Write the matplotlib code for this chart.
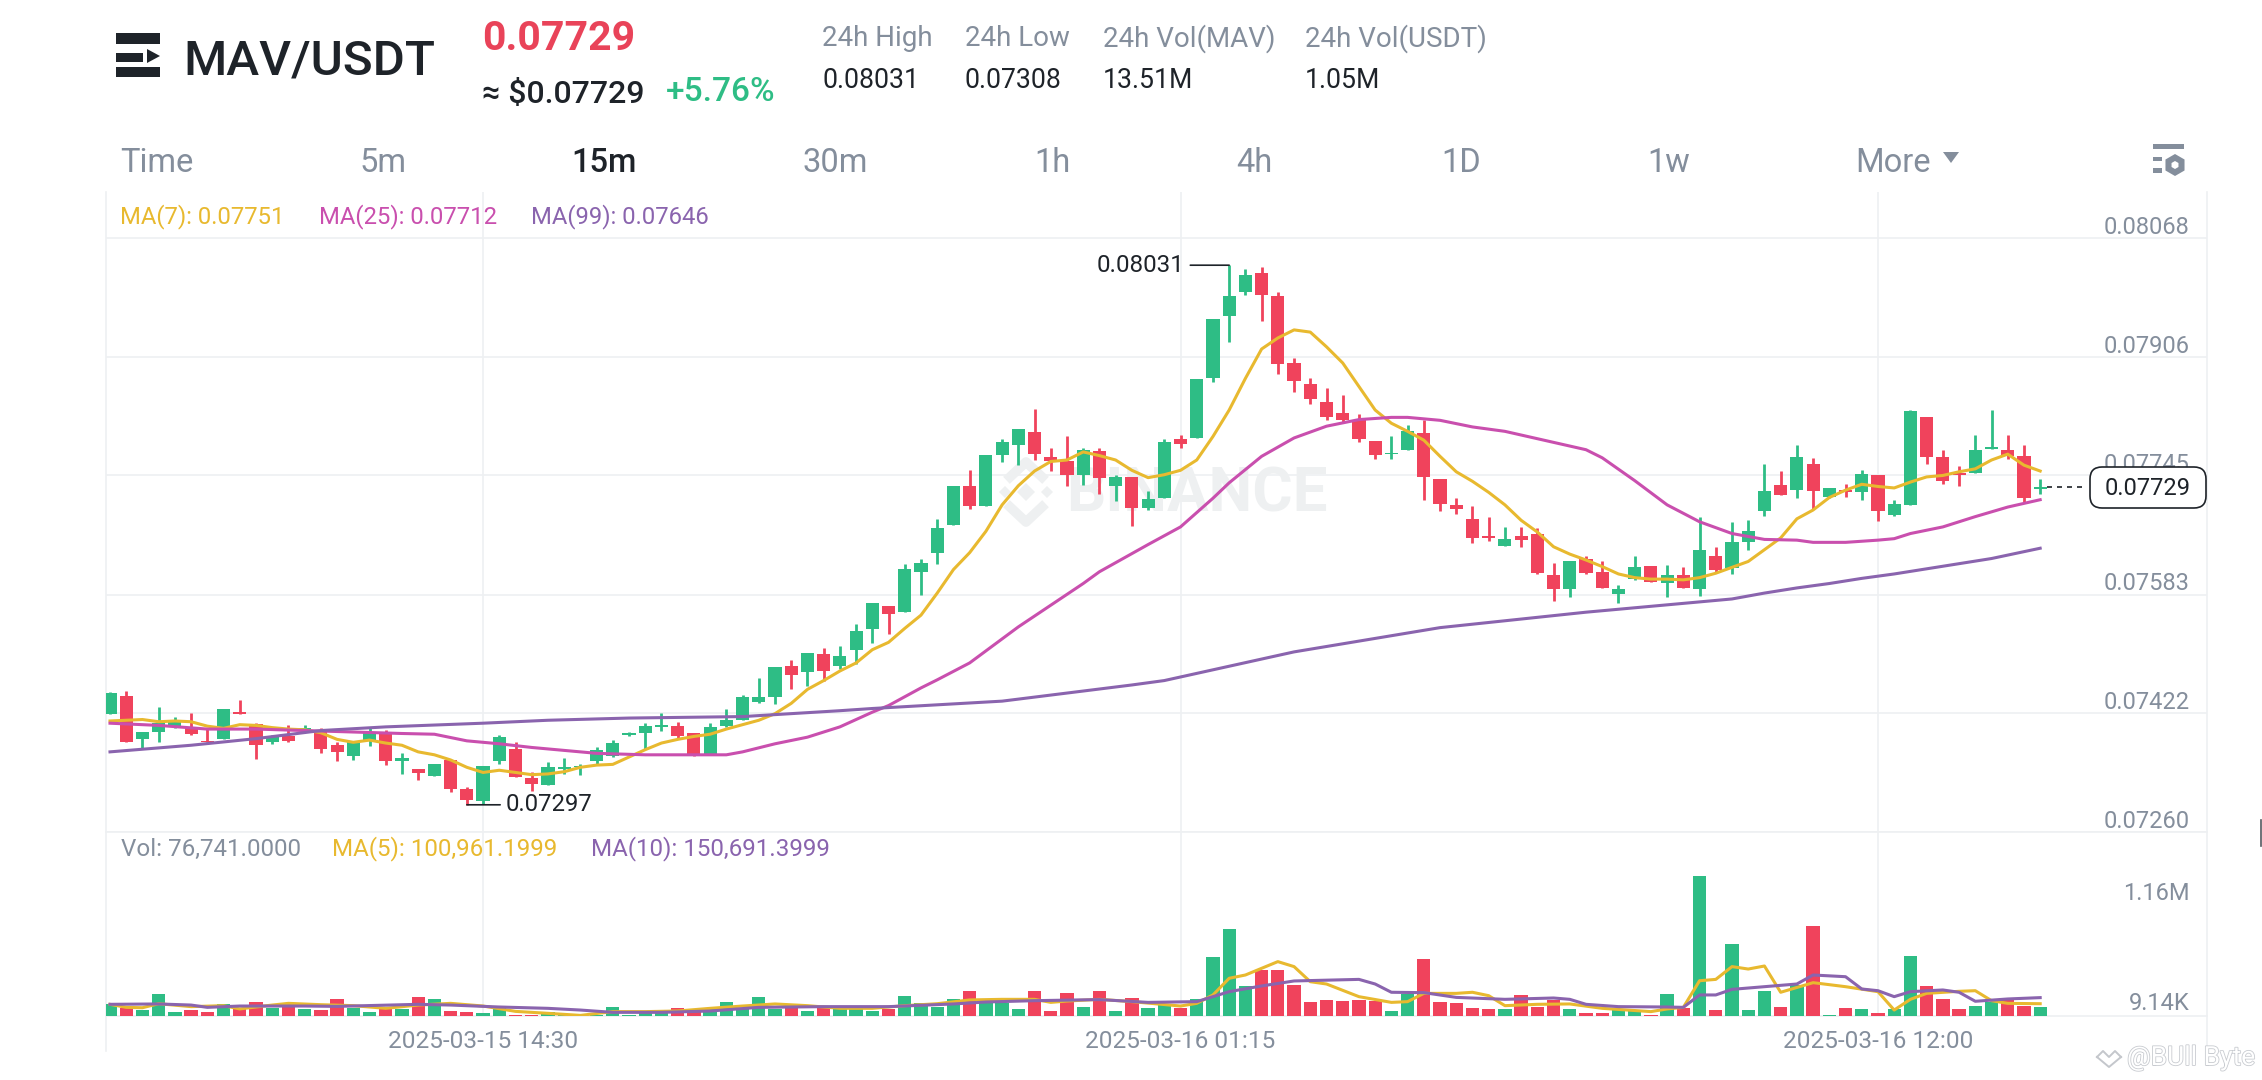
import matplotlib
matplotlib.use("Agg")
import matplotlib.pyplot as plt
import numpy as np
from matplotlib.lines import Line2D
from matplotlib.patches import FancyBboxPatch, Polygon, Rectangle, RegularPolygon
from matplotlib.transforms import IdentityTransform
import matplotlib.patheffects as pe

W, H = 2262, 1080

# prices are in 1e-5 USDT
opens = [7421, 7445, 7386, 7396, 7403, 7401, 7384, 7387, 7423, 7407,
         7382, 7390, 7399, 7396, 7378, 7364, 7385, 7396, 7357, 7346,
         7336, 7358, 7318, 7302, 7356, 7373, 7334, 7324, 7346, 7348,
         7357, 7363, 7392, 7395, 7403, 7404, 7395, 7366, 7404, 7413,
         7437, 7444, 7486, 7477, 7502, 7486, 7508, 7536, 7568, 7559,
         7614, 7639, 7678, 7730, 7704, 7773, 7786, 7804, 7770, 7764,
         7745, 7778, 7731, 7743, 7701, 7714, 7795, 7796, 7877, 7962,
         7994, 8021, 7989, 7898, 7869, 7845, 7830, 7820, 7792, 7774,
         7780, 7803, 7740, 7705, 7686, 7663, 7649, 7663, 7665, 7610,
         7590, 7632, 7613, 7584, 7604, 7622, 7599, 7609, 7591, 7635,
         7619, 7654, 7696, 7732, 7725, 7761, 7716, 7725, 7722, 7745,
         7691, 7705, 7825, 7770, 7749, 7749, 7781, 7779, 7772, 7727]
closes = [7449, 7382, 7396, 7408, 7410, 7393, 7382, 7427, 7420, 7378,
          7391, 7384, 7401, 7373, 7369, 7382, 7396, 7357, 7360, 7340,
          7353, 7319, 7304, 7350, 7389, 7335, 7325, 7349, 7348, 7350,
          7371, 7381, 7394, 7404, 7405, 7390, 7364, 7403, 7412, 7443,
          7443, 7484, 7474, 7504, 7479, 7500, 7534, 7572, 7556, 7618,
          7626, 7673, 7731, 7703, 7773, 7790, 7808, 7774, 7764, 7746,
          7780, 7742, 7743, 7701, 7713, 7791, 7788, 7876, 7958, 7989,
          8018, 7990, 7896, 7873, 7849, 7825, 7820, 7794, 7773, 7776,
          7805, 7743, 7706, 7699, 7660, 7660, 7659, 7657, 7612, 7590,
          7629, 7612, 7592, 7590, 7620, 7600, 7609, 7592, 7643, 7616,
          7654, 7669, 7724, 7718, 7770, 7724, 7728, 7722, 7747, 7697,
          7706, 7833, 7770, 7737, 7746, 7779, 7784, 7771, 7714, 7729]
highs = [7450, 7452, 7396, 7430, 7416, 7422, 7401, 7427, 7440, 7408,
         7392, 7406, 7406, 7402, 7383, 7384, 7401, 7399, 7367, 7346,
         7353, 7358, 7321, 7350, 7392, 7382, 7341, 7355, 7360, 7353,
         7376, 7385, 7396, 7408, 7422, 7410, 7395, 7408, 7427, 7446,
         7469, 7484, 7494, 7504, 7510, 7513, 7543, 7572, 7568, 7625,
         7631, 7686, 7731, 7752, 7773, 7794, 7808, 7836, 7783, 7799,
         7783, 7782, 7745, 7743, 7724, 7794, 7800, 7876, 7958, 8031,
         8026, 8029, 7995, 7905, 7877, 7864, 7854, 7829, 7792, 7798,
         7814, 7820, 7740, 7714, 7703, 7688, 7675, 7675, 7673, 7626,
         7629, 7636, 7628, 7596, 7636, 7622, 7623, 7621, 7688, 7647,
         7682, 7685, 7760, 7751, 7786, 7769, 7728, 7734, 7752, 7745,
         7712, 7834, 7825, 7779, 7758, 7800, 7834, 7800, 7787, 7740]
lows = [7420, 7382, 7374, 7382, 7402, 7392, 7382, 7387, 7420, 7359,
        7380, 7383, 7398, 7367, 7357, 7358, 7377, 7351, 7339, 7331,
        7336, 7315, 7297, 7298, 7353, 7335, 7316, 7324, 7339, 7338,
        7353, 7362, 7391, 7373, 7397, 7387, 7363, 7366, 7403, 7412,
        7436, 7434, 7454, 7458, 7465, 7482, 7489, 7517, 7529, 7559,
        7582, 7625, 7678, 7700, 7704, 7763, 7759, 7766, 7751, 7731,
        7732, 7720, 7710, 7676, 7698, 7714, 7782, 7796, 7872, 7926,
        7990, 7955, 7883, 7859, 7842, 7821, 7818, 7790, 7768, 7768,
        7779, 7711, 7696, 7693, 7653, 7656, 7649, 7647, 7611, 7574,
        7579, 7611, 7592, 7572, 7603, 7600, 7580, 7592, 7581, 7614,
        7611, 7643, 7690, 7718, 7715, 7700, 7715, 7716, 7712, 7683,
        7690, 7705, 7760, 7733, 7730, 7749, 7781, 7767, 7707, 7720]

ma7 = [7411, 7412, 7413, 7410, 7411, 7410, 7404, 7401, 7406, 7405,
       7402, 7400, 7399, 7395, 7386, 7382, 7385, 7381, 7378, 7369,
       7365, 7358, 7348, 7341, 7344, 7341, 7338, 7339, 7342, 7348,
       7351, 7352, 7362, 7372, 7381, 7386, 7390, 7393, 7400, 7406,
       7412, 7421, 7435, 7454, 7466, 7479, 7490, 7508, 7518, 7537,
       7555, 7585, 7617, 7640, 7669, 7705, 7731, 7751, 7764, 7766,
       7777, 7772, 7766, 7752, 7742, 7746, 7752, 7766, 7798, 7834,
       7877, 7917, 7932, 7943, 7940, 7920, 7898, 7866, 7834, 7816,
       7805, 7793, 7771, 7750, 7737, 7722, 7705, 7684, 7668, 7648,
       7638, 7630, 7621, 7611, 7606, 7604, 7604, 7603, 7606, 7612,
       7620, 7628, 7644, 7660, 7686, 7698, 7715, 7725, 7733, 7730,
       7728, 7736, 7743, 7745, 7750, 7754, 7766, 7774, 7759, 7751]

ma25_idx = [0, 3, 6, 9, 12, 15, 18, 20, 22, 24, 26, 28, 30, 33, 36, 38, 39, 41, 43, 45, 47, 48,
            50, 51, 53, 56, 60, 61, 64, 66, 68, 69, 71, 73, 75, 77, 79, 80, 82, 84, 86, 89, 91, 92,
            94, 96, 98, 100, 102, 104, 105, 107, 109, 110, 111, 113, 115, 117, 119]
ma25 = [7408, 7405, 7400, 7400, 7398, 7396, 7394, 7393, 7384, 7380, 7375, 7371, 7367, 7365, 7365, 7365, 7369, 7380, 7389, 7403, 7423, 7432,
        7456, 7467, 7490, 7539, 7598, 7614, 7651, 7675, 7714, 7735, 7771, 7796, 7812, 7821, 7824, 7824, 7820, 7811, 7805, 7790, 7780, 7769,
        7738, 7705, 7682, 7666, 7658, 7657, 7654, 7654, 7657, 7659, 7666, 7675, 7689, 7702, 7712]
ma99_idx = [0, 5, 9, 13, 17, 23, 27, 32, 39, 45, 47, 55, 63, 65, 73, 82, 91, 96, 98, 100, 102, 104, 106, 108, 110, 112, 114, 116, 119]
ma99 = [7369, 7378, 7387, 7398, 7403, 7408, 7412, 7415, 7417, 7425, 7428, 7438, 7460, 7466, 7505, 7538, 7559, 7569, 7573, 7577, 7585, 7592, 7598, 7605, 7611, 7618, 7625, 7632, 7646]

# volume in thousands
volume_k = [96, 66, 52, 181, 30, 47, 30, 99, 58, 118,
            66, 110, 58, 52, 137, 66, 36, 66, 58, 159,
            140, 38, 36, 25, 63, 8, 5, 30, 5, 5,
            5, 74, 5, 25, 25, 66, 33, 63, 118, 55,
            153, 55, 66, 41, 77, 55, 58, 41, 58, 164,
            104, 77, 140, 208, 104, 104, 55, 206, 44, 192,
            71, 208, 41, 145, 63, 99, 63, 140, 488, 718,
            247, 378, 378, 258, 112, 129, 121, 129, 121, 41,
            178, 469, 118, 107, 63, 58, 58, 175, 71, 132,
            58, 27, 27, 58, 41, 11, 178, 63, 1151, 49,
            589, 47, 203, 71, 255, 740, 5, 66, 55, 25,
            55, 490, 244, 137, 60, 82, 118, 132, 85, 77]
vol_ma5_idx = [0, 1, 2, 3, 5, 7, 8, 10, 11, 13, 15, 17, 19, 21, 23, 25, 27, 29, 31, 33, 35, 37, 39, 41, 43, 45, 47, 49, 51, 53, 55, 57, 58, 59, 61,
               63, 66, 67, 68, 69, 70, 72, 73, 74, 75, 77, 79, 80, 81, 83, 84, 85, 86, 88, 90, 92, 95, 96, 97, 98, 99, 100, 101, 102, 103, 105, 107, 109, 110, 111, 112, 114, 115, 116, 117, 119]
vol_ma5 = [96, 71, 68, 101, 77, 85, 58, 90, 104, 93, 85, 63, 90, 104, 82, 38, 22, 5, 36, 36, 41, 63, 82, 99, 85, 63, 63, 85, 101, 132, 137, 137, 112, 123, 137,
           118, 82, 104, 173, 310, 337, 447, 406, 282, 263, 159, 112, 118, 186, 186, 195, 167, 85, 96, 99, 63, 36, 58, 71, 290, 301, 406, 386, 411, 195, 274, 241, 200, 49, 137, 186, 203, 208, 126, 104, 101]
vol_ma10_idx = [0, 3, 5, 6, 8, 12, 14, 19, 21, 24, 27, 29, 31, 34, 37, 40, 44, 48, 52, 54, 57, 61,
                64, 67, 69, 71, 73, 77, 78, 79, 81, 83, 86, 89, 90, 91, 93, 96, 97, 98, 99, 100, 102, 104, 105, 107, 108, 109, 110, 111, 113, 114, 115, 117, 119]
vol_ma10 = [96, 99, 90, 71, 82, 82, 79, 96, 90, 74, 63, 49, 30, 30, 41, 71, 77, 77, 99, 115, 126, 135,
            112, 118, 200, 247, 288, 301, 263, 195, 192, 153, 137, 148, 137, 96, 77, 74, 71, 173, 173, 219, 241, 263, 337, 323, 222, 208, 159, 200, 214, 195, 121, 140, 151]

price_ticks = [8068, 7906, 7745, 7583, 7422, 7260]
time_idx = [23, 66, 109]
time_labels = ["2025-03-15 14:30", "2025-03-16 01:15", "2025-03-16 12:00"]
tabs = ["Time", "5m", "15m", "30m", "1h", "4h", "1D", "1w", "More"]
tab_x = [120, 359, 571, 802, 1034, 1236, 1441, 1647, 1855]
stat_names = ["24h High", "24h Low", "24h Vol(MAV)", "24h Vol(USDT)"]
stat_values = ["0.08031", "0.07308", "13.51M", "1.05M"]
stat_x = [822, 965, 1103, 1305]

GREEN = "#2EBD85"
RED = "#F0435C"
GREY = "#848E9C"
DARK = "#1E2329"
GRID = "#EEF0F2"
YEL = "#E8B92F"
MAG = "#C94FAE"
PUR = "#8A64AE"

plt.rcParams["font.family"] = ["Roboto", "DejaVu Sans"]

fig = plt.figure(figsize=(W / 100, H / 100), dpi=100, facecolor="white")


def fx(x):
    return x / W


def fy(y):
    return 1 - y / H


def label(x, y, s, size, color=GREY, weight="normal", ha="left", **kw):
    return fig.text(fx(x), fy(y), s, fontsize=size, color=color, fontweight=weight, ha=ha, va="center", **kw)


def shape(points, color, z=0):
    fig.add_artist(Polygon([(fx(a), fy(b)) for a, b in points], closed=True, fc=color, ec="none",
                           transform=fig.transFigure, zorder=z))


def rule(xs, ys, color=GRID, lw=1.2, z=0, **kw):
    fig.add_artist(Line2D([fx(a) for a in xs], [fy(b) for b in ys], color=color, lw=lw,
                          transform=fig.transFigure, zorder=z, **kw))


# price panel runs y 192-832, volume panel y 832-1016, candle n sits at x = 110 + 16.22 n
ax = fig.add_axes([fx(106), fy(832), fx(2101), (832 - 192) / H], facecolor="none", zorder=1)
axv = fig.add_axes([fx(106), fy(1016), fx(2101), (1016 - 832) / H], facecolor="none", zorder=1)

x_left = (106 - 110) / 16.22
x_right = (2207 - 110) / 16.22
idx = np.arange(len(opens))
o = np.array(opens) / 1e5
c = np.array(closes) / 1e5
h = np.array(highs) / 1e5
l = np.array(lows) / 1e5
colors = [GREEN if b >= a else RED for a, b in zip(opens, closes)]

ax.vlines(idx, l, h, colors=colors, lw=2.0, zorder=3)
ax.bar(idx, np.abs(c - o), bottom=np.minimum(o, c), width=0.81, color=colors, zorder=3)
ax.plot(idx, np.array(ma7) / 1e5, color=YEL, lw=2.2, zorder=4)
ax.plot(ma25_idx, np.array(ma25) / 1e5, color=MAG, lw=2.2, zorder=4)
ax.plot(ma99_idx, np.array(ma99) / 1e5, color=PUR, lw=2.2, zorder=4)

ax.set_xlim(x_left, x_right)
ax.set_ylim(0.07260, 0.08068 + 46 / 73515)
ax.set_yticks(np.array(price_ticks) / 1e5)
ax.set_xticks(time_idx)
ax.tick_params(length=0, labelleft=False, labelbottom=False)
ax.grid(True, color=GRID, lw=1.2, zorder=0)
ax.set_axisbelow(True)

for p in price_ticks:
    ax.annotate(f"{p / 1e5:.5f}", (1, p / 1e5), xycoords=ax.get_yaxis_transform(), xytext=(-12.5, -0.5),
                textcoords="offset points", ha="right", va="bottom", fontsize=17, color=GREY)

axv.bar(idx, volume_k, width=0.82, color=colors, zorder=3)
axv.plot(vol_ma5_idx, vol_ma5, color=YEL, lw=2.2, zorder=4)
axv.plot(vol_ma10_idx, vol_ma10, color=PUR, lw=2.2, zorder=4)
axv.set_xlim(x_left, x_right)
axv.set_ylim(0, 184 * 8.22)
axv.set_yticks([])
axv.set_xticks(time_idx)
axv.set_xticklabels(time_labels, fontsize=17.6, color=GREY)
axv.tick_params(length=0, pad=10)
axv.grid(True, axis="x", color=GRID, lw=1.2, zorder=0)
axv.set_axisbelow(True)

for a in (ax, axv):
    a.spines["top"].set_visible(False)
    for s in ("left", "right", "bottom"):
        a.spines[s].set_color(GRID)
        a.spines[s].set_linewidth(1.2)

rule([106, 106], [1016, 1051])
rule([2207, 2207], [1016, 1048])

# high / low markers
ax.annotate("0.08031", xy=(69, 0.08031), xytext=(-32, 0), textcoords="offset points", ha="right", va="center",
            fontsize=17.4, color=DARK, zorder=6,
            arrowprops=dict(arrowstyle="-", color=DARK, lw=1.2, shrinkA=2, shrinkB=0))
ax.annotate("0.07297", xy=(22, 0.07297), xytext=(28, 0), textcoords="offset points", ha="left", va="center",
            fontsize=17.2, color=DARK, zorder=6,
            arrowprops=dict(arrowstyle="-", color=DARK, lw=1.2, shrinkA=2, shrinkB=0))

# last price tag
ax.plot([119.4, 121.8], [0.07729, 0.07729], color=DARK, lw=1.2, ls=(0, (3, 3)), zorder=5)
fig.add_artist(FancyBboxPatch((2090, H - 508), 116, 41, boxstyle="round,pad=0,rounding_size=12", fc="white", ec=DARK,
                              lw=1.2, transform=IdentityTransform(), zorder=5))
label(2148, 489, "0.07729", 17, DARK, ha="center", zorder=6)

# volume scale labels
label(2190, 893, "1.16M", 17, ha="right")
label(2190, 1003, "9.14K", 17, ha="right")

# legends
label(120, 217, "MA(7): 0.07751", 17.2, YEL)
label(319, 217, "MA(25): 0.07712", 17.2, MAG)
label(531, 217, "MA(99): 0.07646", 17.2, PUR)
label(121, 849, "Vol: 76,741.0000", 17.4, GREY)
label(332, 849, "MA(5): 100,961.1999", 17.4, YEL)
label(591, 849, "MA(10): 150,691.3999", 17.4, PUR)

# header
label(183, 62, "MAV/USDT", 35.6, DARK, "medium")
label(482, 39, "0.07729", 29.5, "#E94359", "bold")
label(482, 94, "≈ $0.07729", 23, DARK, "medium")
label(666, 92, "+5.76%", 24, GREEN, "medium")
for x, name, val in zip(stat_x, stat_names, stat_values):
    label(x, 39, name, 20, GREY)
    label(x, 81, val, 19.2, DARK)
for x, name in zip(tab_x, tabs):
    if name == "15m":
        label(x, 163, name, 23.5, DARK, "medium")
    else:
        label(x, 163, name, 23.5, GREY)
shape([(1943, 152), (1959, 152), (1951, 163)], GREY)

# pair icon
fig.add_artist(Rectangle((fx(116), fy(44)), fx(44), 11 / H, fc=DARK, ec="none", transform=fig.transFigure))
fig.add_artist(Rectangle((fx(116), fy(77)), fx(44), 10 / H, fc=DARK, ec="none", transform=fig.transFigure))
fig.add_artist(Rectangle((fx(116), fy(62)), fx(27), 9 / H, fc=DARK, ec="none", transform=fig.transFigure))
shape([(147, 49), (160, 56), (147, 63)], DARK)

# settings icon
fig.add_artist(Rectangle((fx(2153), fy(149)), fx(31), 5 / H, fc=GREY, ec="none", transform=fig.transFigure))
fig.add_artist(Rectangle((fx(2153), fy(161)), fx(9), 4 / H, fc=GREY, ec="none", transform=fig.transFigure))
fig.add_artist(Rectangle((fx(2153), fy(173)), fx(9), 5 / H, fc=GREY, ec="none", transform=fig.transFigure))
fig.add_artist(RegularPolygon((2175, H - 165), 6, radius=11, fc=GREY, ec="none", transform=IdentityTransform()))
fig.add_artist(RegularPolygon((2175, H - 165), 6, radius=4, fc="white", ec="none", transform=IdentityTransform()))

# BINANCE watermark, under the axes
WM = "#EEF0F1"
label(1066, 494, "BINANCE", 44.5, WM, "bold", zorder=0)
for cx, cy, r in [(1026, 492, 9), (1005, 492, 6), (1047, 492, 6)]:
    shape([(cx - r, cy), (cx, cy - r), (cx + r, cy), (cx, cy + r)], WM)
for sgn in (-1, 1):
    rule([1010, 1026, 1042], [492 + sgn * 15, 492 + sgn * 30, 492 + sgn * 15], color=WM, lw=7)

# corner credit
label(2127, 1058, "@BUll Byte", 19, "white", zorder=7,
      path_effects=[pe.withStroke(linewidth=1.2, foreground="#C8CBD0")])
rule([2097, 2109, 2121], [1057, 1067, 1057], color="#C4C7CC", lw=1.4, z=7)
rule([2097, 2103, 2109, 2115, 2121], [1057, 1051, 1057, 1051, 1057], color="#C4C7CC", lw=1.4, z=7)
rule([2261, 2261], [820, 846], color="#555A60", lw=1.2, z=7)

fig.savefig("out.png", dpi=100)
